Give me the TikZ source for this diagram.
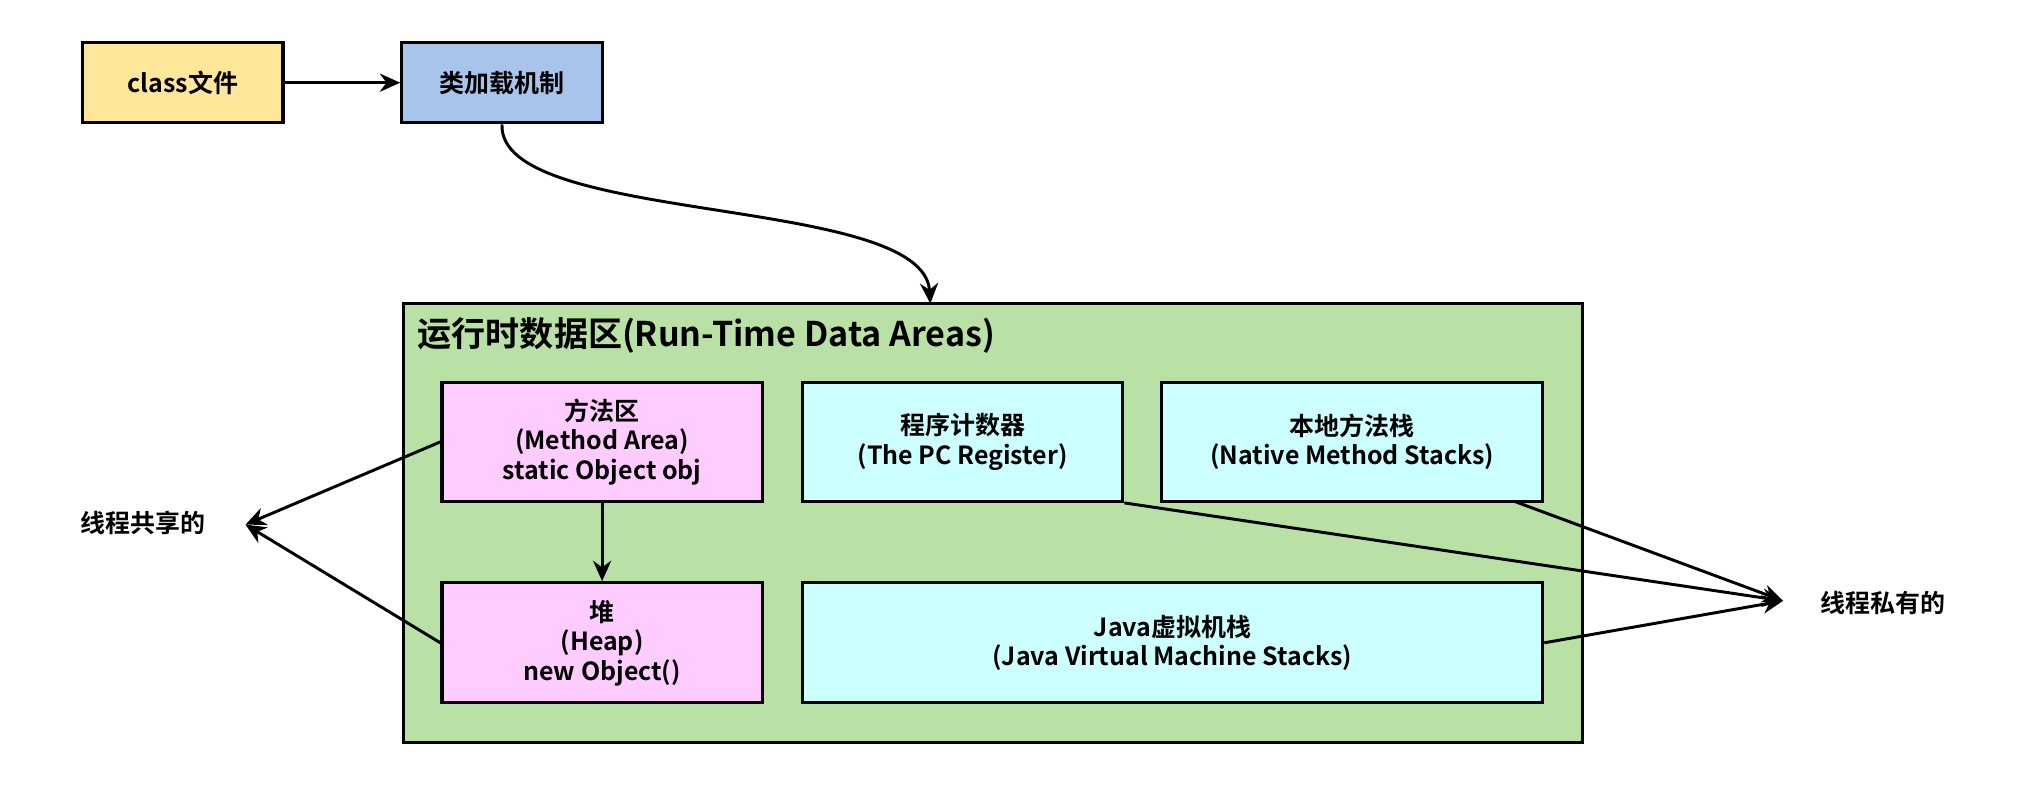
\documentclass[tikz,border=0pt]{standalone}
\usepackage{fontspec}
\setmainfont{Noto Sans CJK SC}[BoldFont={* Bold}]
\usetikzlibrary{arrows.meta}
\definecolor{cyel}{RGB}{255,230,153}
\definecolor{cblue}{RGB}{169,196,235}
\definecolor{cgreen}{RGB}{185,224,165}
\definecolor{cpink}{RGB}{255,204,255}
\definecolor{ccyan}{RGB}{204,255,255}
\tikzset{
  box/.style={draw, line width=1.4pt, font=\bfseries\fontsize{11}{13}\selectfont, align=center, inner sep=1pt},
  arr/.style={-{Stealth[length=9pt,width=8pt]}, line width=1.3pt},
  lbl/.style={font=\bfseries\fontsize{11}{13}\selectfont, inner sep=1pt},
}
\begin{document}
\begin{tikzpicture}[x=0.02cm,y=-0.02cm]
  \useasboundingbox (0,0) rectangle (1568,607);
  \node[box, fill=cyel, minimum width=3.1cm, minimum height=1.24cm] (cls) at (141.5,64) {class文件};
  \node[box, fill=cblue, minimum width=3.1cm, minimum height=1.24cm] (load) at (388.5,64) {类加载机制};

  \node[draw, line width=1.4pt, fill=cgreen, minimum width=18.26cm, minimum height=6.8cm] (rt) at (768.5,405) {};
  \node[anchor=west, font=\bfseries\fontsize{15}{18}\selectfont, inner sep=0pt] (title) at (323,260) {运行时数据区(Run-Time Data Areas)};

  \node[box, fill=cpink, minimum width=4.96cm, minimum height=1.84cm] (ma) at (466,342) {方法区\\(Method Area)\\static Object obj};
  \node[box, fill=ccyan, minimum width=4.96cm, minimum height=1.84cm] (pc) at (745,342) {程序计数器\\(The PC Register)};
  \node[box, fill=ccyan, minimum width=5.9cm, minimum height=1.84cm] (nms) at (1046.5,342) {本地方法栈\\(Native Method Stacks)};
  \node[box, fill=cpink, minimum width=4.96cm, minimum height=1.86cm] (heap) at (466,497.5) {堆\\(Heap)\\new Object()};
  \node[box, fill=ccyan, minimum width=11.46cm, minimum height=1.86cm] (jvm) at (907.5,497.5) {Java虚拟机栈\\(Java Virtual Machine Stacks)};

  \node[lbl] (shared) at (111,405) {线程共享的};
  \node[lbl] (private) at (1457,467) {线程私有的};
  \coordinate (sh) at (190,406);
  \coordinate (pr) at (1380,465);
  \coordinate (rtin) at (720,235);

  \draw[arr] (cls) -- (load);
  \draw[arr] (load.south) .. controls (385,175) and (715,150) .. (rtin);
  \draw[arr] (ma) -- (heap);
  \draw[arr] (ma.west) -- (sh);
  \draw[arr] (heap.west) -- (sh);
  \draw[arr] (pc.south east) -- (pr);
  \draw[arr] (1172,388) -- (pr);
  \draw[arr] (jvm.east) -- (pr);
\end{tikzpicture}
\end{document}
